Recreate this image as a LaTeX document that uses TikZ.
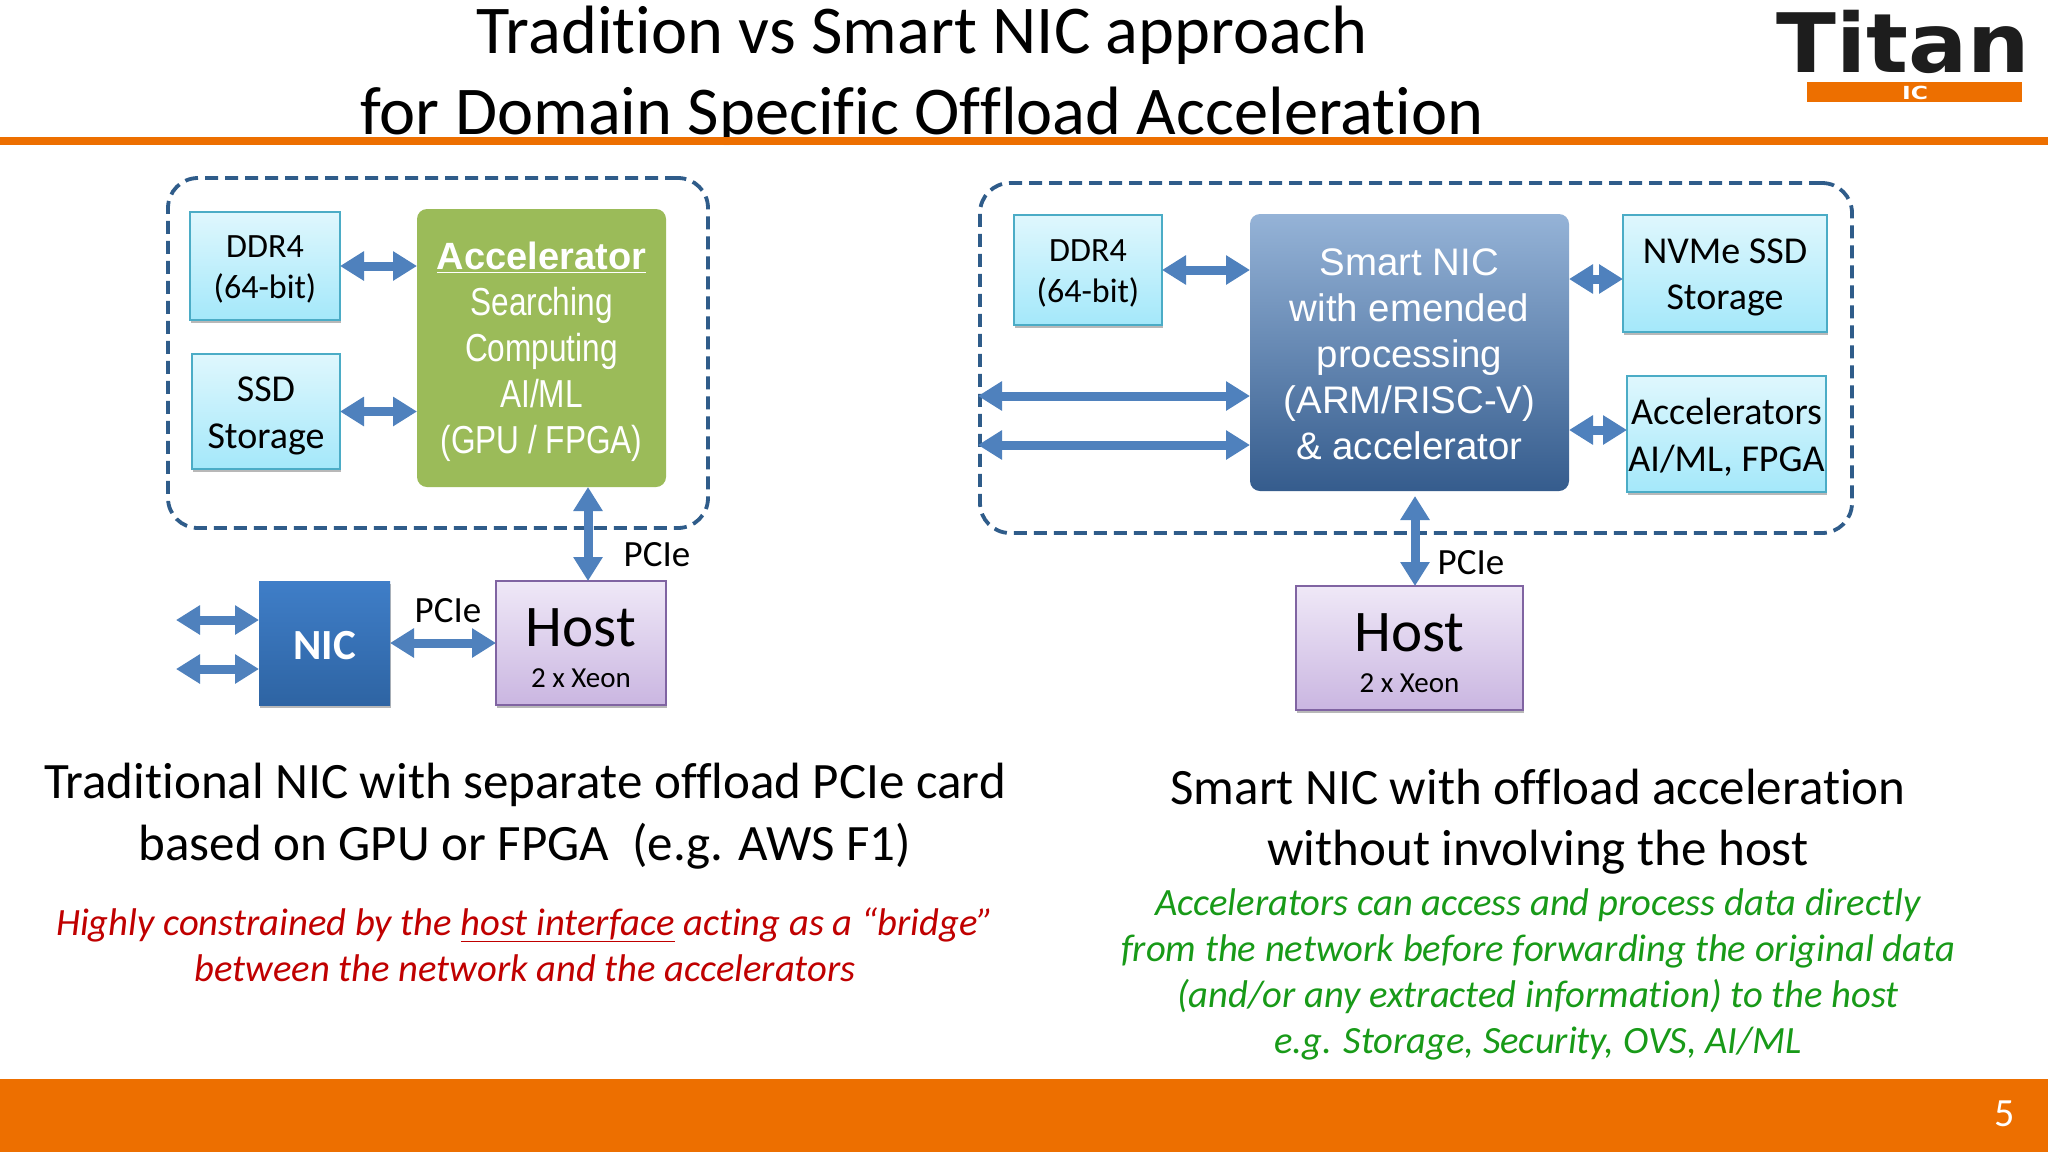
\documentclass[tikz,border=0pt]{standalone}
\usepackage{fontspec}
\usepackage{graphicx}
\usetikzlibrary{arrows.meta,shadows,calc}
\setmainfont[Ligatures=NoCommon]{Carlito}
\newfontfamily\arialf{Liberation Sans}
\newfontfamily\arialn[FakeStretch=0.81]{Liberation Sans}
\newfontfamily\logof{DejaVu Sans}
\newcommand{\fs}[2]{\fontsize{#1}{#2}\selectfont}
\newcommand{\dn}{\rule{0pt}{.87em}}
\definecolor{orangeT}{HTML}{ED6F00}
\definecolor{dashC}{HTML}{2F5C8A}
\definecolor{arrowC}{HTML}{4F81BD}
\definecolor{redT}{HTML}{C00000}
\definecolor{greenT}{HTML}{189A18}
\definecolor{logoC}{HTML}{1D1D1D}
\definecolor{cyanTop}{HTML}{DFF7FD}
\definecolor{cyanBot}{HTML}{A4E8FA}
\definecolor{cyanEdge}{HTML}{4BACC6}
\definecolor{hostTop}{HTML}{EFE8F7}
\definecolor{hostBot}{HTML}{CAB6E1}
\definecolor{hostEdge}{HTML}{8064A2}
\definecolor{accGreen}{HTML}{9BBB59}
\definecolor{nicTop}{HTML}{3F7EC8}
\definecolor{nicBot}{HTML}{2E64A3}
\definecolor{smartTop}{HTML}{95B3D7}
\definecolor{smartBot}{HTML}{355C8D}
\tikzset{
  softshadow/.style={drop shadow={shadow xshift=1pt,shadow yshift=-3pt,opacity=.28,fill=black}},
  dashbox/.style={draw=dashC,line width=3.8pt,dash pattern=on 13pt off 7pt,rounded corners=30pt,inner sep=0pt,outer sep=0pt},
  cyanbox/.style={softshadow,draw=cyanEdge,line width=1.2pt,top color=cyanTop,bottom color=cyanBot,inner sep=0pt,outer sep=0pt,align=center,text=black},
  hostbox/.style={softshadow,draw=hostEdge,line width=1.2pt,top color=hostTop,bottom color=hostBot,inner sep=0pt,outer sep=0pt,align=center,text=black,font=\fs{59}{41.5}},
  greenbox/.style={fill=accGreen,rounded corners=10pt,inner sep=0pt,outer sep=0pt,align=center,text=white,font=\arialn\fs{39}{46}},
  nicbox/.style={softshadow,top color=nicTop,bottom color=nicBot,inner sep=0pt,outer sep=0pt,align=center,text=white},
  smartbox/.style={top color=smartTop,bottom color=smartBot,rounded corners=10pt,inner sep=0pt,outer sep=0pt,align=center,text=white,font=\arialf\fs{38.4}{46}},
  linkarrow/.style={arrowC,line width=9pt,{Triangle[width=28pt,length=24pt]}-{Triangle[width=28pt,length=24pt]}},
  title/.style={anchor=base,font=\fs{68.4}{76},text=black,inner sep=0pt},
  body/.style={anchor=base,font=\fs{51}{56},text=black,inner sep=0pt},
  note/.style={anchor=base,font=\fs{38.6}{44}\itshape,inner sep=0pt},
  pcie/.style={anchor=base,font=\fs{37}{40},text=black,inner sep=0pt},
}
\begin{document}
\begin{tikzpicture}[x=1pt,y=-1pt]
\useasboundingbox (0,0) rectangle (2048,1152);
\fill[white] (0,0) rectangle (2048,1152);
% header / footer
\node[title] (t1) at (922,53.5) {Tradition vs Smart NIC approach};
\node[title] (t2) at (922,134.5) {for Domain Specific Offload Acceleration};
\fill[orangeT] (0,137) rectangle (2048,145);
\fill[orangeT] (0,1079) rectangle (2048,1152);
\node[anchor=base,text=white,inner sep=0pt,font=\fs{40}{44}] (pg) at (2005,1126) {5};
\node[anchor=base west,inner sep=0pt,text=logoC,font=\logof\bfseries\fs{82}{90}] (logo) at (1776,72) {\scalebox{1.07}[1]{Titan}};
\fill[orangeT] (1807,82) rectangle (2022,102);
\node[anchor=center,inner sep=0pt,text=white,font=\logof\bfseries\fs{18}{20}] (ic) at (1915,93) {\scalebox{1.3}[1]{IC}};
% left diagram
\node[dashbox,minimum width=540pt,minimum height=350pt] (frameL) at (438,353) {};
\node[cyanbox,minimum width=150pt,minimum height=108pt,font=\fs{34}{41}] (ddrL) at (265,266) {\dn DDR4\\(64-bit)};
\node[cyanbox,minimum width=148pt,minimum height=115pt,font=\fs{38}{47}] (ssdL) at (266,411.5) {\dn SSD\\Storage};
\node[greenbox,minimum width=249pt,minimum height=278pt] (acc) at (541.5,348) {\rule{0pt}{36pt}{\arialf\bfseries\fs{38}{46}\underline{Accelerator}}\\Searching\\Computing\\AI/ML\\(GPU / FPGA)};
\node[nicbox,minimum width=131pt,minimum height=124pt,font=\fs{43}{44}\bfseries] (nic) at (324.5,643) {\rule{0pt}{33pt}NIC};
\node[hostbox,minimum width=170pt,minimum height=124pt] (hostL) at (581,643) {\rule{0pt}{48.5pt}Host\\{\fs{29}{34}2 x Xeon}};
\coordinate (freeA) at (176,620);
\coordinate (freeB) at (176,669);
\coordinate (xL) at (588,0);
\draw[linkarrow] (ddrL.east) -- (ddrL.east -| acc.west);
\draw[linkarrow] (ssdL.east) -- (ssdL.east -| acc.west);
\draw[linkarrow] (acc.south -| xL) -- (hostL.north -| xL);
\draw[linkarrow] (nic.east) -- (hostL.west);
\draw[linkarrow] (freeA) -- (freeA -| nic.west);
\draw[linkarrow] (freeB) -- (freeB -| nic.west);
\node[pcie] (pcA) at (657,566) {PCIe};
\node[pcie] (pcB) at (448,622) {PCIe};
% right diagram
\node[dashbox,minimum width=872pt,minimum height=350pt] (frameR) at (1416,358) {};
\node[cyanbox,minimum width=148pt,minimum height=110pt,font=\fs{34}{41}] (ddrR) at (1088,270) {\dn DDR4\\(64-bit)};
\node[smartbox,minimum width=319pt,minimum height=277pt] (smart) at (1409.5,352.5) {\rule{0pt}{30pt}Smart NIC\\with emended\\processing\\(ARM/RISC-V)\\\& accelerator};
\node[cyanbox,minimum width=204pt,minimum height=117pt,font=\fs{38}{46}] (nvme) at (1725,273.5) {\dn NVMe SSD\\Storage};
\node[cyanbox,minimum width=199pt,minimum height=116pt,font=\fs{38}{47}] (accs) at (1726.5,434) {\dn Accelerators\\AI/ML, FPGA};
\node[hostbox,minimum width=227pt,minimum height=124pt] (hostR) at (1409.5,648) {\rule{0pt}{48.5pt}Host\\{\fs{29}{34}2 x Xeon}};
\coordinate (freeC) at (978,396);
\coordinate (freeD) at (978,445);
\coordinate (xR) at (1415,0);
\coordinate (yN) at (0,279);
\coordinate (yA) at (0,430);
\draw[linkarrow] (ddrR.east) -- (ddrR.east -| smart.west);
\draw[linkarrow] (smart.east |- yN) -- (nvme.west |- yN);
\draw[linkarrow] (smart.east |- yA) -- (accs.west |- yA);
\draw[linkarrow] (freeC) -- (freeC -| smart.west);
\draw[linkarrow] (freeD) -- (freeD -| smart.west);
\draw[linkarrow] ($(smart.south -| xR)+(0,5)$) -- (hostR.north -| xR);
\node[pcie] (pcC) at (1471,574) {PCIe};
% captions
\node[body] (c1) at (525,798) {Traditional NIC with separate offload PCIe card};
\node[body] (c2) at (525,860) {based on GPU or FPGA\ \ (e.g. AWS F1)};
\node[note,text=redT] (r1) at (525,935) {Highly constrained by the \underline{host interface} acting as a “bridge”};
\node[note,text=redT] (r2) at (525,981) {between the network and the accelerators};
\node[body] (c3) at (1538,804.5) {Smart NIC with offload acceleration};
\node[body] (c4) at (1538,865.5) {without involving the host};
\node[note,text=greenT] (g1) at (1538,915) {Accelerators can access and process data directly};
\node[note,text=greenT] (g2) at (1538,961) {from the network before forwarding the original data};
\node[note,text=greenT] (g3) at (1538,1007) {(and/or any extracted information) to the host};
\node[note,text=greenT] (g4) at (1538,1053) {e.g. Storage, Security, OVS, AI/ML};
\end{tikzpicture}
\end{document}
